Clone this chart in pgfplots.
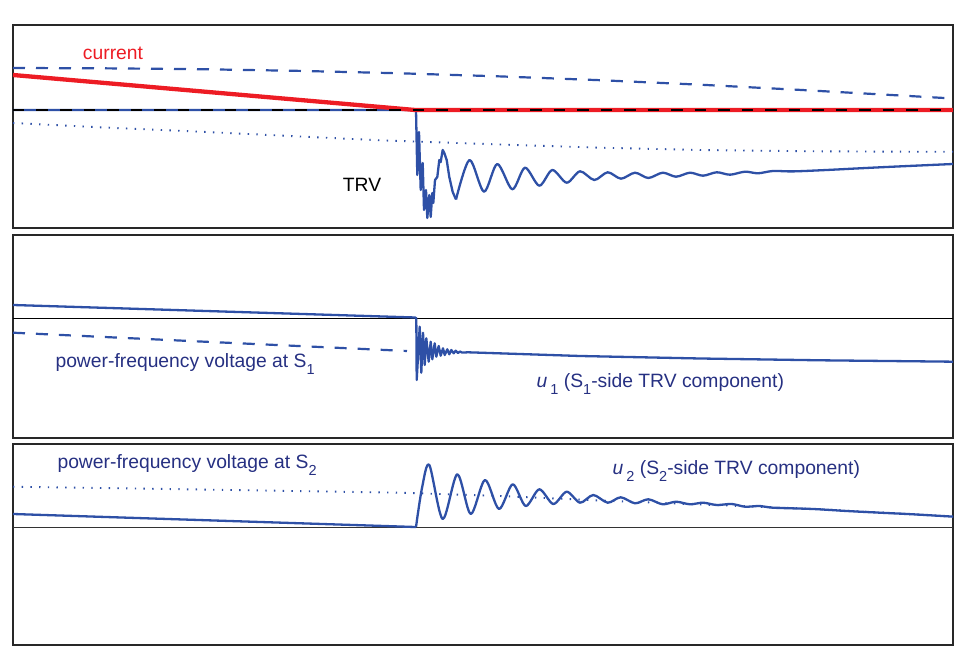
\documentclass[border=0pt]{standalone}
\usepackage{pgfplots}
\pgfplotsset{compat=1.18}
\usepackage{fontspec}
\setmainfont{Liberation Sans}
\definecolor{lineblue}{RGB}{46,80,166}
\definecolor{textblue}{RGB}{38,48,130}
\definecolor{myred}{RGB}{237,28,36}
\definecolor{frame}{RGB}{40,40,40}
\newcommand\sub[1]{\raisebox{-0.34em}{\fontsize{14.5}{14.5}\selectfont #1}}
\newcommand\lbl{\fontsize{19.3}{22}\selectfont}
\pgfplotsset{
  panel/.style={
    anchor=south west, scale only axis, width=940pt,
    xmin=13, xmax=953, xtick=\empty, ytick=\empty,
    axis line style={line width=1.4pt, color=frame},
    clip=true,
  },
  sol/.style={lineblue, line width=2.3pt, line join=round},
  dsh/.style={lineblue, line width=2.2pt, dash pattern=on 12pt off 11pt},
  dot/.style={lineblue, line width=1.9pt, dash pattern=on 1.4pt off 7.3pt},
}
\begin{document}
\begin{tikzpicture}[x=1pt,y=1pt]
\path[use as bounding box] (0,0) rectangle (974,666);
% ---------------- panel 1 ----------------
\begin{axis}[panel, at={(13pt,438pt)}, height=203pt, ymin=-228, ymax=-25]
\addplot[dsh] coordinates {(13,-68)(100,-68.3)(200,-69.2)(300,-70.9)(400,-73.3)(500,-76.4)(600,-80.2)(700,-84.7)(800,-89.9)(900,-95.5)(953,-98.5)};
\addplot[dot] coordinates {(13,-123)(100,-127.3)(200,-131.7)(300,-136.5)(380,-140.3)(500,-144.5)(600,-147.7)(700,-150)(800,-151.2)(900,-151.7)(953,-151.8)};
\addplot[sol] coordinates {(13,-110)(415,-110)(416,-110)(417.3,-175)(419,-132)(420.7,-190)(422.7,-163)(424,-210)(426,-190)(427.3,-218)(429.3,-195)(430.7,-217)(432.3,-193)(433.3,-203)(435,-180)(437.3,-177)(439.3,-160)(440.7,-162)(442.7,-150)(444.3,-153)(446.7,-160)(449.3,-177)(452.7,-192)(456,-199.5)};
\addplot[sol, smooth] coordinates {(456,-199.5)(469.5,-160)(484,-191.7)(497.3,-164)(512.3,-189.3)(525,-167.7)(539.3,-185.7)(552.3,-170)(566.7,-182.7)(580,-171.3)(594.3,-180)(607.7,-172.3)(621,-178.7)(635,-172.7)(648.3,-178)(662.7,-172.7)(676,-176.7)(690,-172.7)(703,-175.7)(716.7,-172.3)(730,-174.7)(745,-171.7)(758,-173.3)(773,-171)(793,-171.4)(826.7,-170)(860,-168.3)(893,-166.7)(953,-164)};
\addplot[myred, line width=4.3pt] coordinates {(13,-75)(415,-110)(953,-110)};
\addplot[black, line width=1.1pt, dash pattern=on 11.5pt off 12pt] coordinates {(13,-110)(953,-110)};
\node[myred, font=\lbl] at (axis cs:113,-53) {current};
\node[black, font=\lbl] at (axis cs:362,-185) {TRV};
\end{axis}
% ---------------- panel 2 ----------------
\begin{axis}[panel, at={(13pt,228pt)}, height=203pt, ymin=-438, ymax=-235]
\addplot[black, line width=1pt] coordinates {(13,-319)(953,-319)};
\addplot[dsh] coordinates {(13,-332.7)(200,-341.5)(407,-351)};
\addplot[sol] coordinates {(13,-305)(415,-317.5)(416.3,-318.3)(416.7,-380)(419.7,-326.7)(421.3,-372.7)(423,-332.7)(424.7,-365)(426.3,-338.3)(428.7,-361.7)(430.7,-341.7)(432.3,-359.3)(434.7,-343.3)(436.3,-356.7)(438.7,-346)(440.7,-355.7)(443,-348.3)(444.7,-355)(447.3,-349.3)(449.3,-354.3)(451.3,-350)(453.7,-353.3)(455.7,-350.7)(458,-353)(460,-351.5)(462,-352.6)(468,-352.3)(580,-356)(700,-358.5)(820,-360.3)(953,-361.7)};
\node[textblue, font=\lbl, anchor=west] at (axis cs:52,-364) {power-frequency voltage at S\sub{1}};
\node[textblue, font=\lbl, anchor=west] at (axis cs:533,-384) {\textit{u}\,\sub{1} (S\sub{1}-side TRV component)};
\end{axis}
% ---------------- panel 3 ----------------
\begin{axis}[panel, at={(13pt,21pt)}, height=201pt, ymin=-645, ymax=-444]
\addplot[black!80, line width=1pt] coordinates {(13,-528)(953,-528)};
\addplot[dot] coordinates {(13,-486.7)(200,-489.5)(400,-492.7)(500,-496)(600,-500.5)(700,-504.5)(800,-508.3)(900,-513.5)(953,-516.7)};
\addplot[sol] coordinates {(13,-514)(415,-527)(416,-527)};
\addplot[sol, smooth] coordinates {(416,-527)(422,-488)(429.3,-465)(442.7,-519)(457.3,-474.3)(470.7,-514)(485,-480)(499,-509)(512.7,-484.3)(525.7,-506)(539.3,-489.3)(553.3,-504)(566.7,-491.7)(580,-502.7)(593.3,-495)(607.7,-502.7)(620.7,-497.3)(635,-503.3)(648.3,-499.3)(662.7,-504.3)(676,-501.7)(690,-504.3)(703,-502.7)(716.7,-505)(731.7,-504)(745,-506.7)(760,-506)(773,-507.7)(813,-509)(846.7,-511)(880,-512.7)(913,-514.3)(954,-516.7)};
\node[textblue, font=\lbl, anchor=west] at (axis cs:54,-465) {power-frequency voltage at S\sub{2}};
\node[textblue, font=\lbl, anchor=west] at (axis cs:609,-471) {\textit{u}\,\sub{2} (S\sub{2}-side TRV component)};
\end{axis}
\end{tikzpicture}
\end{document}
